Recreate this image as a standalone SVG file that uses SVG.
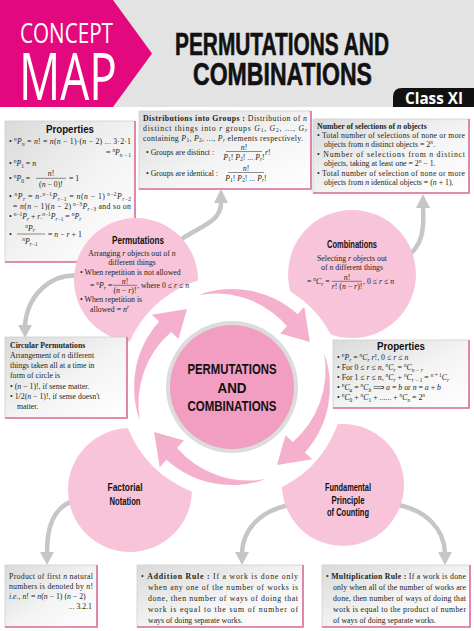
<svg xmlns="http://www.w3.org/2000/svg" width="474" height="631" viewBox="0 0 474 631">
<defs>
<linearGradient id="bg" x1="0" y1="0" x2="1" y2="1">
<stop offset="0" stop-color="#dadada"/>
<stop offset="0.55" stop-color="#f4f4f4"/>
<stop offset="1" stop-color="#ffffff"/>
</linearGradient>
<style>
.box{fill:url(#bg);stroke:#d0d0d0;stroke-width:0.8}
.edge{fill:none;stroke:#dc6e9f;stroke-width:1.6}
.t{font-family:"Liberation Serif","Times New Roman",serif;font-size:7.8px;fill:#231f20}
.i{font-style:italic}
.s{font-size:5.4px}
.b{font-weight:bold}
.hd{font-family:"Liberation Sans",Arial,sans-serif;font-weight:bold;fill:#111}
.conn{fill:none;stroke:#c6c6c6;stroke-width:4.5}
.ah{fill:#c6c6c6}
.pc{fill:#f7c4d9}
.cr{fill:#f5b0cd}
.fb{stroke:#231f20;stroke-width:0.5}
</style>
</defs>
<rect width="474" height="631" fill="#ffffff"/>

<g id="header">
<rect x="0" y="0" width="474" height="107" fill="#e3e3e3"/>
<polygon points="0,0 113,0 152,53.5 113,107 0,107" fill="#e4087e"/>
<text x="20" y="43" font-family="'Open Sans','Liberation Sans',sans-serif" font-size="28" fill="#ffffff" textLength="93" lengthAdjust="spacingAndGlyphs">CONCEPT</text>
<text x="19" y="100" font-family="'Open Sans','Liberation Sans',sans-serif" font-size="66" fill="#ffffff" textLength="98" lengthAdjust="spacingAndGlyphs">MAP</text>
<text class="hd" x="175" y="55" font-size="31" stroke="#111" stroke-width="0.6" textLength="214" lengthAdjust="spacingAndGlyphs">PERMUTATIONS AND</text>
<text class="hd" x="193" y="85" font-size="31" stroke="#111" stroke-width="0.6" textLength="179" lengthAdjust="spacingAndGlyphs">COMBINATIONS</text>
<path d="M393,107 V97 Q393,88 402,88 H474 V107 Z" fill="#111111"/>
<text x="405" y="104" font-family="'Open Sans','Liberation Sans',sans-serif" font-weight="bold" font-size="16" fill="#ffffff" textLength="58" lengthAdjust="spacingAndGlyphs">Class XI</text>
</g>

<g id="connectors">
<path class="conn" d="M180,240 C200,226 221,222 221,203"/>
<polygon class="ah" points="221,189 214,203 228,203"/>
<path class="conn" d="M405,258 C424,246 424,226 423,208"/>
<polygon class="ah" points="423,194 416,208 430,208"/>
<path class="conn" d="M82,276 C50,272 27,296 25,326"/>
<polygon class="ah" points="25,338 18,325 32,325"/>
<path class="conn" d="M75,500 C52,508 47,528 47,553"/>
<polygon class="ah" points="47,565 40,552 54,552"/>
<path class="conn" d="M290,505 C262,510 243,528 242,553"/>
<polygon class="ah" points="242,565 235,552 249,552"/>
<path class="conn" d="M398,505 C425,510 444,528 445,553"/>
<polygon class="ah" points="445,565 438,552 452,552"/>
</g>

<g id="properties-left">
<rect class="box" x="5" y="121" width="130" height="141"/>
<path class="edge" d="M135,121 V262 H5"/>
<text class="hd" x="70" y="133" font-size="10" text-anchor="middle" textLength="48" lengthAdjust="spacingAndGlyphs">Properties</text>
<text class="t" x="9" y="144" textLength="122">•  <tspan class="s i" dy="-3">n</tspan><tspan class="i" dy="3">P</tspan><tspan class="s i" dy="1.8">n</tspan><tspan dy="-1.8"> = </tspan><tspan class="i">n</tspan>! = <tspan class="i">n</tspan>(<tspan class="i">n</tspan> − 1)·(<tspan class="i">n</tspan> − 2) ... 3·2·1</text>
<text class="t" x="131" y="155" text-anchor="end">= <tspan class="s i" dy="-3">n</tspan><tspan class="i" dy="3">P</tspan><tspan class="s" dy="1.8"><tspan class="i">n</tspan> − 1</tspan></text>
<text class="t" x="9" y="166">•  <tspan class="s i" dy="-3">n</tspan><tspan class="i" dy="3">P</tspan><tspan class="s" dy="1.8">1</tspan><tspan dy="-1.8"> = </tspan><tspan class="i">n</tspan></text>
<text class="t" x="9" y="181">•  <tspan class="s i" dy="-3">n</tspan><tspan class="i" dy="3">P</tspan><tspan class="s" dy="1.8">0</tspan><tspan dy="-1.8"> =</tspan></text>
<text class="t" x="51" y="176" text-anchor="middle"><tspan class="i">n</tspan>!</text>
<line class="fb" x1="36" y1="178.3" x2="66" y2="178.3"/>
<text class="t" x="51" y="186.5" text-anchor="middle">(<tspan class="i">n</tspan> − 0)!</text>
<text class="t" x="69" y="181">= 1</text>
<text class="t" x="9" y="199" textLength="122">•  <tspan class="s i" dy="-3">n</tspan><tspan class="i" dy="3">P</tspan><tspan class="s i" dy="1.8">r</tspan><tspan dy="-1.8"> = </tspan><tspan class="i">n</tspan>·<tspan class="s" dy="-3"><tspan class="i">n</tspan>−1</tspan><tspan class="i" dy="3">P</tspan><tspan class="s" dy="1.8"><tspan class="i">r</tspan>−1</tspan><tspan dy="-1.8"> = </tspan><tspan class="i">n</tspan>(<tspan class="i">n</tspan> − 1)<tspan class="s" dy="-3"> <tspan class="i">n</tspan>−2</tspan><tspan class="i" dy="3">P</tspan><tspan class="s" dy="1.8"><tspan class="i">r</tspan>−2</tspan></text>
<text class="t" x="13" y="209" textLength="118">= <tspan class="i">n</tspan>(<tspan class="i">n</tspan> − 1)(<tspan class="i">n</tspan> − 2)<tspan class="s" dy="-3"> <tspan class="i">n</tspan>−3</tspan><tspan class="i" dy="3">P</tspan><tspan class="s" dy="1.8"><tspan class="i">r</tspan>−3</tspan><tspan dy="-1.8"> and so on</tspan></text>
<text class="t" x="9" y="219">•  <tspan class="s" dy="-3"><tspan class="i">n</tspan>−1</tspan><tspan class="i" dy="3">P</tspan><tspan class="s i" dy="1.8">r</tspan><tspan dy="-1.8"> + </tspan><tspan class="i">r</tspan>.<tspan class="s" dy="-3"><tspan class="i">n</tspan>−1</tspan><tspan class="i" dy="3">P</tspan><tspan class="s" dy="1.8"><tspan class="i">r</tspan>−1</tspan><tspan dy="-1.8"> = </tspan><tspan class="s i" dy="-3">n</tspan><tspan class="i" dy="3">P</tspan><tspan class="s i" dy="1.8">r</tspan></text>
<text class="t" x="9" y="237">•</text>
<text class="t" x="30" y="230.5" text-anchor="middle"><tspan class="s i" dy="-3">n</tspan><tspan class="i" dy="3">P</tspan><tspan class="s i" dy="1.8">r</tspan></text>
<line class="fb" x1="17" y1="234" x2="45" y2="234"/>
<text class="t" x="30" y="244" text-anchor="middle"><tspan class="s i" dy="-3">n</tspan><tspan class="i" dy="3">P</tspan><tspan class="s" dy="1.8"><tspan class="i">r</tspan>−1</tspan></text>
<text class="t" x="48" y="237">= <tspan class="i">n</tspan> − <tspan class="i">r</tspan> + 1</text>
</g>

<g id="circles-bg">
<circle class="pc" cx="136" cy="280" r="62"/>
<circle class="pc" cx="352" cy="274" r="64"/>
<circle class="pc" cx="130" cy="490" r="62"/>
<circle class="pc" cx="343" cy="485" r="61"/>
</g>

<g id="cycle">
<circle cx="232" cy="387" r="112" fill="#ffffff"/>
<path class="cr" d="M139.9,420.5 A98,98 0 0 1 159.2,321.4 L151.7,314.7 L187,309.1 L178.5,338.8 L171.1,332.1 A95,95 0 0 0 139.9,420.5 Z"/>
<path class="cr" d="M198.5,294.9 A98,98 0 0 1 297.6,314.2 L304.3,306.7 L309.9,342 L280.2,333.5 L286.9,326.1 A95,95 0 0 0 198.5,294.9 Z"/>
<path class="cr" d="M324.1,353.5 A98,98 0 0 1 304.8,452.6 L312.3,459.3 L277,464.9 L285.5,435.2 L292.9,441.9 A95,95 0 0 0 324.1,353.5 Z"/>
<path class="cr" d="M265.5,479.1 A98,98 0 0 1 166.4,459.8 L159.7,467.3 L154.1,432 L183.8,440.5 L177.1,447.9 A95,95 0 0 0 265.5,479.1 Z"/>
</g>

<g id="center">
<circle cx="232" cy="387" r="66" fill="#dcdcdc"/>
<circle cx="232" cy="387" r="62" fill="#f29dc2"/>
<text class="hd" x="232" y="374" font-size="15" text-anchor="middle" textLength="89" lengthAdjust="spacingAndGlyphs">PERMUTATIONS</text>
<text class="hd" x="232" y="393" font-size="15" text-anchor="middle" textLength="29" lengthAdjust="spacingAndGlyphs">AND</text>
<text class="hd" x="232" y="411" font-size="15" text-anchor="middle" textLength="89" lengthAdjust="spacingAndGlyphs">COMBINATIONS</text>
</g>

<g id="permutations">
<text class="hd" x="138" y="243.5" font-size="10" text-anchor="middle" textLength="52" lengthAdjust="spacingAndGlyphs">Permutations</text>
<text class="t" x="132" y="256" text-anchor="middle">Arranging <tspan class="i">r</tspan> objects out of <tspan class="i">n</tspan></text>
<text class="t" x="132" y="265" text-anchor="middle">different things</text>
<text class="t" x="80" y="275">•  When repetition is not allowed</text>
<text class="t" x="90" y="288">= <tspan class="s i" dy="-3">n</tspan><tspan class="i" dy="3">P</tspan><tspan class="s i" dy="1.8">r</tspan><tspan dy="-1.8"> =</tspan></text>
<text class="t" x="125" y="283.5" text-anchor="middle"><tspan class="i">n</tspan>!</text>
<line class="fb" x1="113" y1="285.3" x2="137" y2="285.3"/>
<text class="t" x="125" y="292.5" text-anchor="middle">(<tspan class="i">n</tspan> − <tspan class="i">r</tspan>)!</text>
<text class="t" x="137" y="288">, where 0 ≤ <tspan class="i">r</tspan> ≤ <tspan class="i">n</tspan></text>
<text class="t" x="80" y="302">•  When repetition is</text>
<text class="t" x="90" y="312">allowed = <tspan class="i">n</tspan><tspan class="s i" dy="-3">r</tspan></text>
</g>

<g id="combinations">
<text class="hd" x="352" y="248" font-size="10" text-anchor="middle" textLength="50" lengthAdjust="spacingAndGlyphs">Combinations</text>
<text class="t" x="352" y="261" text-anchor="middle">Selecting <tspan class="i">r</tspan> objects out</text>
<text class="t" x="352" y="270" text-anchor="middle">of <tspan class="i">n</tspan> different things</text>
<text class="t" x="307" y="284" font-size="7">= <tspan class="s i" dy="-3">n</tspan><tspan class="i" dy="3">C</tspan><tspan class="s i" dy="1.8">r</tspan><tspan dy="-1.8"> =</tspan></text>
<text class="t" x="347" y="279.5" font-size="7" text-anchor="middle"><tspan class="i">n</tspan>!</text>
<line class="fb" x1="332" y1="281.3" x2="362" y2="281.3"/>
<text class="t" x="347" y="288.5" font-size="7" text-anchor="middle"><tspan class="i">r</tspan>! (<tspan class="i">n</tspan> − <tspan class="i">r</tspan>)!</text>
<text class="t" x="363" y="284" font-size="7">, 0 ≤ <tspan class="i">r</tspan> ≤ <tspan class="i">n</tspan></text>
</g>

<g id="factorial">
<text class="hd" x="125" y="491" font-size="10" text-anchor="middle" textLength="35" lengthAdjust="spacingAndGlyphs">Factorial</text>
<text class="hd" x="125" y="505" font-size="10" text-anchor="middle" textLength="31" lengthAdjust="spacingAndGlyphs">Notation</text>
</g>

<g id="fundamental">
<text class="hd" x="348" y="491" font-size="10" text-anchor="middle" textLength="46" lengthAdjust="spacingAndGlyphs">Fundamental</text>
<text class="hd" x="348" y="504" font-size="10" text-anchor="middle" textLength="33" lengthAdjust="spacingAndGlyphs">Principle</text>
<text class="hd" x="348" y="516" font-size="10" text-anchor="middle" textLength="42" lengthAdjust="spacingAndGlyphs">of Counting</text>
</g>

<g id="distributions">
<rect class="box" x="139" y="111" width="172" height="78"/>
<path class="edge" d="M311,111 V189 H139"/>
<text class="t" x="143" y="120.5" textLength="164"><tspan class="b">Distributions into Groups :</tspan> Distribution of <tspan class="i">n</tspan></text>
<text class="t" x="143" y="130.5" textLength="164">distinct things into <tspan class="i">r</tspan> groups <tspan class="i">G</tspan><tspan class="s" dy="1.8">1</tspan><tspan dy="-1.8">, </tspan><tspan class="i">G</tspan><tspan class="s" dy="1.8">2</tspan><tspan dy="-1.8">, ..., </tspan><tspan class="i">G</tspan><tspan class="s i" dy="1.8">r</tspan></text>
<text class="t" x="143" y="140.5" textLength="160">containing <tspan class="i">P</tspan><tspan class="s" dy="1.8">1</tspan><tspan dy="-1.8">, </tspan><tspan class="i">P</tspan><tspan class="s" dy="1.8">2</tspan><tspan dy="-1.8">, ..., </tspan><tspan class="i">P</tspan><tspan class="s i" dy="1.8">r</tspan><tspan dy="-1.8"> elements respectively.</tspan></text>
<text class="t" x="146" y="155">•  Groups are distinct :</text>
<text class="t" x="244" y="149.5" text-anchor="middle"><tspan class="i">n</tspan>!</text>
<line class="fb" x1="226" y1="151.5" x2="262" y2="151.5"/>
<text class="t" x="244" y="159.5" text-anchor="middle"><tspan class="i">P</tspan><tspan class="s" dy="1.8">1</tspan><tspan dy="-1.8">! </tspan><tspan class="i">P</tspan><tspan class="s" dy="1.8">2</tspan><tspan dy="-1.8">! ... </tspan><tspan class="i">P</tspan><tspan class="s i" dy="1.8">r</tspan><tspan dy="-1.8">!</tspan></text>
<text class="t" x="265" y="155"><tspan class="i">r</tspan>!</text>
<text class="t" x="146" y="176">•  Groups are identical :</text>
<text class="t" x="246" y="170.5" text-anchor="middle"><tspan class="i">n</tspan>!</text>
<line class="fb" x1="228" y1="172.5" x2="264" y2="172.5"/>
<text class="t" x="246" y="180.5" text-anchor="middle"><tspan class="i">P</tspan><tspan class="s" dy="1.8">1</tspan><tspan dy="-1.8">! </tspan><tspan class="i">P</tspan><tspan class="s" dy="1.8">2</tspan><tspan dy="-1.8">! ... </tspan><tspan class="i">P</tspan><tspan class="s i" dy="1.8">r</tspan><tspan dy="-1.8">!</tspan></text>
</g>

<g id="selections">
<rect class="box" x="313" y="119" width="156" height="74"/>
<path class="edge" d="M469,119 V193 H313"/>
<text class="t b" x="317" y="128.5">Number of selections of <tspan class="i">n</tspan> objects</text>
<text class="t" x="317" y="138" textLength="148">•  Total number of selections of none or more</text>
<text class="t" x="324" y="147">objects from <tspan class="i">n</tspan> distinct objects = 2<tspan class="s i" dy="-3">n</tspan><tspan dy="3">.</tspan></text>
<text class="t" x="317" y="157" textLength="148">•  Number of selections from <tspan class="i">n</tspan> distinct</text>
<text class="t" x="324" y="166">objects, taking at least one = 2<tspan class="s i" dy="-3">n</tspan><tspan dy="3"> − 1.</tspan></text>
<text class="t" x="317" y="176" textLength="148">•  Total number of selection of none or more</text>
<text class="t" x="324" y="185">objects from <tspan class="i">n</tspan> identical objects = (<tspan class="i">n</tspan> + 1).</text>
</g>

<g id="circular">
<rect class="box" x="5" y="337" width="122" height="81"/>
<path class="edge" d="M127,337 V418 H5"/>
<text class="t b" x="10" y="347.5" font-size="8.2">Circular Permutations</text>
<text class="t" x="10" y="358" font-size="8.2">Arrangement of <tspan class="i">n</tspan> different</text>
<text class="t" x="10" y="368" font-size="8.2">things taken all at a time in</text>
<text class="t" x="10" y="378" font-size="8.2">form of circle is</text>
<text class="t" x="10" y="388.5" font-size="8.2">•  (<tspan class="i">n</tspan> − 1)!, if sense matter.</text>
<text class="t" x="10" y="398.5" font-size="8.2">•  1/2(<tspan class="i">n</tspan> − 1)!, if sense doesn't</text>
<text class="t" x="17" y="408.5" font-size="8.2">matter.</text>
</g>

<g id="properties-right">
<rect class="box" x="333" y="340" width="136" height="68"/>
<path class="edge" d="M469,340 V408 H333"/>
<text class="hd" x="401" y="350" font-size="10" text-anchor="middle" textLength="48" lengthAdjust="spacingAndGlyphs">Properties</text>
<text class="t" x="337" y="360">•  <tspan class="s i" dy="-3">n</tspan><tspan class="i" dy="3">P</tspan><tspan class="s i" dy="1.8">r</tspan><tspan dy="-1.8"> = </tspan><tspan class="s i" dy="-3">n</tspan><tspan class="i" dy="3">C</tspan><tspan class="s i" dy="1.8">r</tspan><tspan dy="-1.8"> </tspan><tspan class="i">r</tspan>!, 0 ≤ <tspan class="i">r</tspan> ≤ <tspan class="i">n</tspan></text>
<text class="t" x="337" y="370">•  For 0 ≤ <tspan class="i">r</tspan> ≤ <tspan class="i">n</tspan>, <tspan class="s i" dy="-3">n</tspan><tspan class="i" dy="3">C</tspan><tspan class="s i" dy="1.8">r</tspan><tspan dy="-1.8"> = </tspan><tspan class="s i" dy="-3">n</tspan><tspan class="i" dy="3">C</tspan><tspan class="s i" dy="1.8">n − r</tspan></text>
<text class="t" x="337" y="380">•  For 1 ≤ <tspan class="i">r</tspan> ≤ <tspan class="i">n</tspan>, <tspan class="s i" dy="-3">n</tspan><tspan class="i" dy="3">C</tspan><tspan class="s i" dy="1.8">r</tspan><tspan dy="-1.8"> + </tspan><tspan class="s i" dy="-3">n</tspan><tspan class="i" dy="3">C</tspan><tspan class="s" dy="1.8"><tspan class="i">r</tspan> − 1</tspan><tspan dy="-1.8"> = </tspan><tspan class="s" dy="-3"><tspan class="i">n</tspan> + 1</tspan><tspan class="i" dy="3">C</tspan><tspan class="s i" dy="1.8">r</tspan></text>
<text class="t" x="337" y="390">•  <tspan class="s i" dy="-3">n</tspan><tspan class="i" dy="3">C</tspan><tspan class="s i" dy="1.8">a</tspan><tspan dy="-1.8"> = </tspan><tspan class="s i" dy="-3">n</tspan><tspan class="i" dy="3">C</tspan><tspan class="s i" dy="1.8">b</tspan><tspan dy="-1.8"> ⟹ </tspan><tspan class="i">a</tspan> = <tspan class="i">b</tspan> or <tspan class="i">n</tspan> = <tspan class="i">a</tspan> + <tspan class="i">b</tspan></text>
<text class="t" x="337" y="400">•  <tspan class="s i" dy="-3">n</tspan><tspan class="i" dy="3">C</tspan><tspan class="s" dy="1.8">0</tspan><tspan dy="-1.8"> + </tspan><tspan class="s i" dy="-3">n</tspan><tspan class="i" dy="3">C</tspan><tspan class="s" dy="1.8">1</tspan><tspan dy="-1.8"> + ...... + </tspan><tspan class="s i" dy="-3">n</tspan><tspan class="i" dy="3">C</tspan><tspan class="s i" dy="1.8">n</tspan><tspan dy="-1.8"> = 2</tspan><tspan class="s i" dy="-3">n</tspan></text>
</g>

<g id="product">
<rect class="box" x="5" y="565" width="92" height="62"/>
<path class="edge" d="M97,565 V627 H5"/>
<text class="t" x="9" y="579" font-size="8.2" textLength="84">Product of first <tspan class="i">n</tspan> natural</text>
<text class="t" x="9" y="589" font-size="8.2" textLength="84">numbers is denoted by <tspan class="i">n</tspan>!</text>
<text class="t" x="9" y="599" font-size="8.2"><tspan class="i">i.e.</tspan>, <tspan class="i">n</tspan>! = <tspan class="i">n</tspan>(<tspan class="i">n</tspan> − 1) (<tspan class="i">n</tspan> − 2)</text>
<text class="t" x="92" y="609" font-size="8.2" text-anchor="end">... 3.2.1</text>
</g>

<g id="addition">
<rect class="box" x="137" y="565" width="166" height="62"/>
<path class="edge" d="M303,565 V627 H137"/>
<text class="t" x="141" y="578.5" font-size="8.2" textLength="157">•  <tspan class="b">Addition Rule :</tspan> If a work is done only</text>
<text class="t" x="148" y="589.5" font-size="8.2" textLength="150">when any one of the number of works is</text>
<text class="t" x="148" y="600.5" font-size="8.2" textLength="150">done, then number of ways of doing that</text>
<text class="t" x="148" y="611.5" font-size="8.2" textLength="150">work is equal to the sum of number of</text>
<text class="t" x="148" y="622.5" font-size="8.2">ways of doing separate works.</text>
</g>

<g id="multiplication">
<rect class="box" x="322" y="565" width="148" height="62"/>
<path class="edge" d="M470,565 V627 H322"/>
<text class="t" x="326" y="578.5" font-size="8.2" textLength="140">•  <tspan class="b">Multiplication Rule :</tspan> If a work is done</text>
<text class="t" x="333" y="589.5" font-size="8.2" textLength="133">only when all of the number of works are</text>
<text class="t" x="333" y="600.5" font-size="8.2" textLength="133">done, then number of ways of doing that</text>
<text class="t" x="333" y="611.5" font-size="8.2" textLength="133">work is equal to the product of number</text>
<text class="t" x="333" y="622.5" font-size="8.2">of ways of doing separate works.</text>
</g>
</svg>
